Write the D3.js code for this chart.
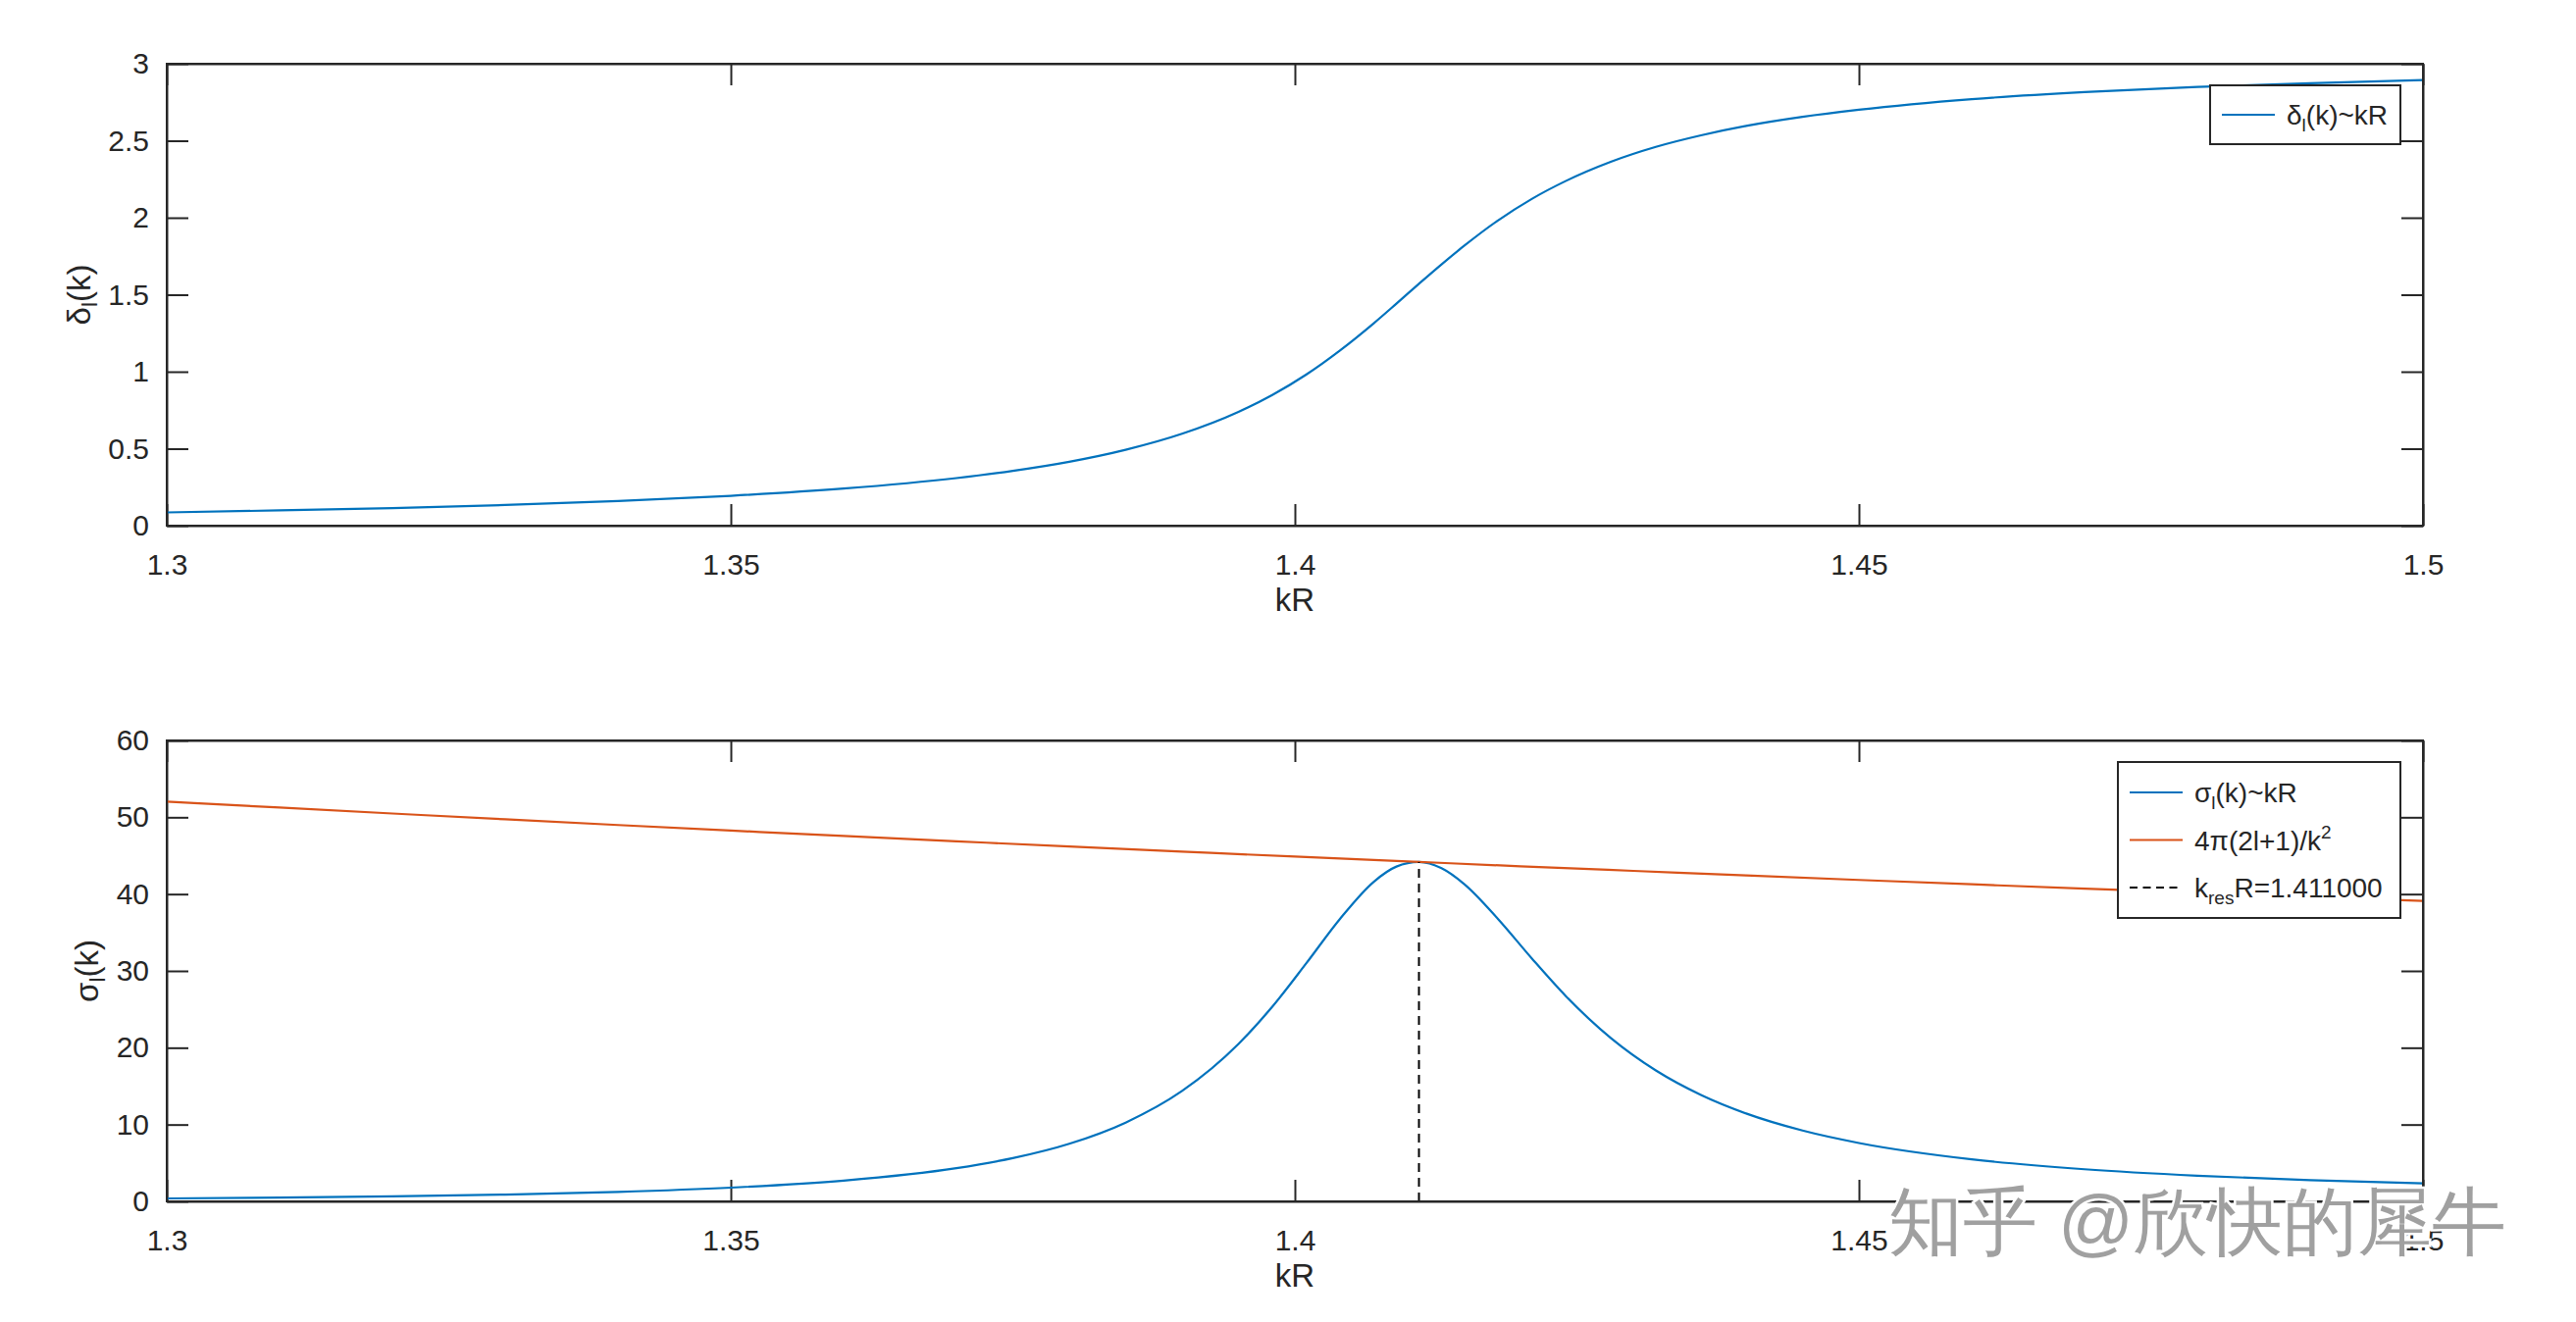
<!DOCTYPE html>
<html><head><meta charset="utf-8">
<script src="https://cdn.jsdelivr.net/npm/d3@7"></script>
<style>
body{margin:0;background:#fff}
svg{display:block}
text{font-family:"Liberation Sans",Arial,Helvetica,sans-serif;fill:#262626}
</style>
</head><body>
<svg id="c" width="2626" height="1348"></svg>
<script>
// ---- data ----
const kR = [1.30,1.31,1.32,1.33,1.34,1.35,1.36,1.37,1.375,1.38,1.385,1.39,1.395,1.398,1.401,1.404,1.407,1.409,1.411,1.413,1.415,1.418,1.421,1.424,1.428,1.432,1.436,1.44,1.445,1.45,1.46,1.47,1.48,1.49,1.50];
const delta = [0.086,0.099,0.114,0.134,0.160,0.194,0.241,0.309,0.356,0.415,0.493,0.597,0.739,0.849,0.981,1.138,1.315,1.442,1.571,1.697,1.817,1.982,2.122,2.238,2.363,2.460,2.535,2.596,2.655,2.701,2.770,2.816,2.849,2.874,2.894];
const sigma = [0.38,0.50,0.66,0.89,1.24,1.79,2.70,4.32,5.63,7.50,10.26,14.37,20.49,25.34,30.97,36.77,41.61,43.58,44.18,43.36,41.31,36.77,31.63,26.75,21.27,17.04,13.85,11.44,9.22,7.60,5.47,4.18,3.34,2.76,2.35];
const kRLimit = [1.30,1.31,1.32,1.33,1.34,1.35,1.36,1.37,1.38,1.39,1.40,1.41,1.42,1.43,1.44,1.45,1.46,1.47,1.48,1.49,1.50];
const limit = [52.05,51.26,50.49,49.73,48.99,48.27,47.56,46.87,46.19,45.53,44.88,44.25,43.62,43.02,42.42,41.84,41.27,40.71,40.16,39.62,39.10];
const kRes = 1.411;
const sigmaRes = 44.18;
const xTicks = [1.3,1.35,1.4,1.45,1.5];
const xTickLabels = ["1.3","1.35","1.4","1.45","1.5"];
const yTicksTop = [0,0.5,1,1.5,2,2.5,3];
const yTickLabelsTop = ["0","0.5","1","1.5","2","2.5","3"];
const yTicksBottom = [0,10,20,30,40,50,60];
const yTickLabelsBottom = ["0","10","20","30","40","50","60"];
const watermark = "知乎 @欣快的犀牛";

// ---- drawing ----
const svg = d3.select("#c");
const C = {blue:"#0072BD", orange:"#D95319", axis:"#262626"};
const L = 170, R = 2470;
const x = d3.scaleLinear().domain([1.3,1.5]).range([L,R]);
const panels = [
  {top:65, bottom:536, domain:[0,3], ticks:yTicksTop, labels:yTickLabelsTop},
  {top:755, bottom:1225, domain:[0,60], ticks:yTicksBottom, labels:yTickLabelsBottom}
];
const TICK = 22, FS = 30;

function drawAxes(p){
  const y = d3.scaleLinear().domain(p.domain).range([p.bottom,p.top]);
  p.y = y;
  const g = svg.append("g");
  const fmtX = (d,i)=>xTickLabels[i];
  const fmtY = (d,i)=>p.labels[i];
  const ab = g.append("g").attr("transform",`translate(0,${p.bottom})`)
    .call(d3.axisBottom(x).tickValues(xTicks).tickFormat(fmtX).tickSizeInner(-TICK).tickSizeOuter(0).tickPadding(29));
  const at = g.append("g").attr("transform",`translate(0,${p.top})`)
    .call(d3.axisTop(x).tickValues(xTicks).tickFormat("").tickSizeInner(-TICK).tickSizeOuter(0));
  const al = g.append("g").attr("transform",`translate(${L},0)`)
    .call(d3.axisLeft(y).tickValues(p.ticks).tickFormat(fmtY).tickSizeInner(-TICK).tickSizeOuter(0).tickPadding(18));
  const ar = g.append("g").attr("transform",`translate(${R},0)`)
    .call(d3.axisRight(y).tickValues(p.ticks).tickFormat("").tickSizeInner(-TICK).tickSizeOuter(0));
  [ab,at,al,ar].forEach(a=>{
    a.selectAll(".domain").attr("stroke",C.axis).attr("stroke-width",2);
    a.selectAll(".tick line").attr("stroke",C.axis).attr("stroke-width",2);
    a.selectAll(".tick text").attr("font-size",FS).attr("font-family",null).style("fill",C.axis);
  });
  g.append("text").attr("x",(L+R)/2).attr("y",p.bottom+87).attr("text-anchor","middle")
    .attr("font-size",33).text("kR");
  return g;
}
panels.forEach(drawAxes);

function yLabel(p, sym, bx){
  const t = svg.append("text").attr("transform",`translate(${bx},${(p.top+p.bottom)/2}) rotate(-90)`)
    .attr("text-anchor","middle").attr("font-size",33);
  t.append("tspan").text(sym);
  t.append("tspan").attr("font-size",22).attr("dy",7).text("l");
  t.append("tspan").attr("dy",-7).text("(k)");
}
yLabel(panels[0],"δ",92);
yLabel(panels[1],"σ",100);

panels.forEach((p,i)=>{
  svg.append("clipPath").attr("id","clip"+i).append("rect")
    .attr("x",L).attr("y",p.top).attr("width",R-L).attr("height",p.bottom-p.top);
});

const y0 = panels[0].y, y1 = panels[1].y;
svg.append("path").attr("clip-path","url(#clip0)")
  .datum(kR.map((k,i)=>[k,delta[i]]))
  .attr("d",d3.line().x(d=>x(d[0])).y(d=>y0(d[1])).curve(d3.curveMonotoneX))
  .attr("fill","none").attr("stroke",C.blue).attr("stroke-width",2.2);

const g1 = svg.append("g").attr("clip-path","url(#clip1)");
g1.append("path").datum(kR.map((k,i)=>[k,sigma[i]]))
  .attr("d",d3.line().x(d=>x(d[0])).y(d=>y1(d[1])).curve(d3.curveMonotoneX))
  .attr("fill","none").attr("stroke",C.blue).attr("stroke-width",2.2);
g1.append("path").datum(kRLimit.map((k,i)=>[k,limit[i]]))
  .attr("d",d3.line().x(d=>x(d[0])).y(d=>y1(d[1])).curve(d3.curveMonotoneX))
  .attr("fill","none").attr("stroke",C.orange).attr("stroke-width",2.2);
g1.append("line").attr("x1",x(kRes)).attr("x2",x(kRes)).attr("y1",y1(0)).attr("y2",y1(sigmaRes))
  .attr("stroke","#000").attr("stroke-width",2).attr("stroke-dasharray","9,6");

panels.forEach(p=>{
  svg.append("rect").attr("x",L).attr("y",p.top).attr("width",R-L).attr("height",p.bottom-p.top)
    .attr("fill","none").attr("stroke",C.axis).attr("stroke-width",2);
});

function legend(box, entries){
  const g = svg.append("g");
  g.append("rect").attr("x",box.x).attr("y",box.y).attr("width",box.w).attr("height",box.h)
    .attr("fill","#fff").attr("stroke",C.axis).attr("stroke-width",2);
  entries.forEach((e,i)=>{
    const cy = box.y + box.first + i*box.step;
    g.append("line").attr("x1",box.x+12).attr("x2",box.x+66).attr("y1",cy).attr("y2",cy)
      .attr("stroke",e.color).attr("stroke-width",2.2).attr("stroke-dasharray",e.dash||null);
    const t = g.append("text").attr("x",box.x+78).attr("y",cy+10).attr("font-size",28);
    e.parts.forEach(pt=>{
      const s = t.append("tspan").text(pt.t);
      if(pt.sub){ s.attr("font-size",19).attr("dy",7); }
      else if(pt.sup){ s.attr("font-size",19).attr("dy",-12); }
      else if(pt.back){ s.attr("dy",pt.back); }
    });
  });
}
legend({x:2253,y:87,w:194,h:60,first:30,step:48},[
  {color:C.blue, parts:[{t:"δ"},{t:"l",sub:true},{t:"(k)~kR",back:-7}]}
]);
legend({x:2159,y:777,w:288,h:159,first:31,step:48.5},[
  {color:C.blue, parts:[{t:"σ"},{t:"l",sub:true},{t:"(k)~kR",back:-7}]},
  {color:C.orange, parts:[{t:"4π(2l+1)/k"},{t:"2",sup:true}]},
  {color:"#000", dash:"8,5.5", parts:[{t:"k"},{t:"res",sub:true},{t:"R=1.411000",back:-7}]}
]);

// watermark (overlaid in the reference)
svg.append("text").attr("x",1925).attr("y",1272).attr("font-size",76).attr("font-weight",500)
  .attr("font-family","'Noto Sans CJK SC',sans-serif")
  .style("fill","#a0a0a0").attr("stroke","#fff").attr("stroke-width",5)
  .attr("paint-order","stroke").text(watermark);
</script>
</body></html>
